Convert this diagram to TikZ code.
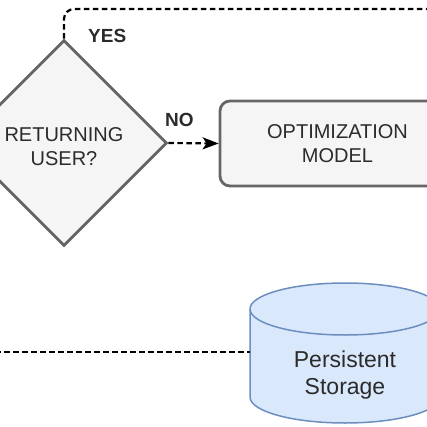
\documentclass[tikz,border=0pt]{standalone}
\usepackage{fontspec}
\setmainfont{Liberation Sans}
\usetikzlibrary{shapes.geometric,arrows.meta}
\definecolor{boxfill}{HTML}{F5F5F5}
\definecolor{boxline}{HTML}{666666}
\definecolor{storefill}{HTML}{DAE8FC}
\definecolor{storeline}{HTML}{6C8EBF}
\definecolor{txt}{HTML}{2B2B2B}
\tikzset{
  decision/.style={diamond, draw=boxline, fill=boxfill, line width=2.8pt,
    minimum width=206pt, minimum height=206pt, inner sep=0pt, aspect=1},
  process/.style={rectangle, rounded corners=10pt, draw=boxline, fill=boxfill,
    line width=2.8pt, minimum width=235pt, minimum height=85pt,
    align=center, text=txt, font=\fontsize{20}{24}\selectfont},
  caption/.style={align=center, text=txt, font=\fontsize{20}{24}\selectfont},
  flow/.style={line width=2.2pt, dash pattern=on 5.5pt off 3.5pt},
  answer/.style={text=txt, font=\bfseries\fontsize{19}{22}\selectfont, inner sep=0pt}
}
\begin{document}
\begin{tikzpicture}[x=1pt,y=-1pt]
      \useasboundingbox (0,0) rectangle (427,427);
      \clip (0,0) rectangle (427,427);
      \draw
        (64,143) node[decision] (ret){}
        (64,147) node[caption] (rettext){RETURNING\\USER?}
        (337.5,143.5) node[process] (opt){OPTIMIZATION\\MODEL}
        (88,43) node[answer, anchor=base west] (yes){YES}
        (165,127) node[answer, anchor=base west] (no){NO};
      % storage cylinder
      \draw[draw=storeline, fill=storefill, line width=1.5pt]
        (250,309) -- (250,397) arc[start angle=180, end angle=360, x radius=95pt, y radius=26pt]
        -- (440,309) arc[start angle=0, end angle=180, x radius=95pt, y radius=26pt] -- cycle;
      \draw[draw=storeline, line width=1.5pt]
        (250,309) arc[start angle=180, end angle=360, x radius=95pt, y radius=26pt];
      \node[text=txt, align=center, font=\fontsize{23}{27}\selectfont] (store) at (345,375) {Persistent\\Storage};
      \coordinate (storein) at (250,352);
      \coordinate (linkin) at (-5,352);
      \coordinate (yesout) at (440,9);
      \begin{scope}[flow]
        \draw[rounded corners=10pt] (ret.north) |- (yesout);
        \draw[-{Stealth[length=16pt,width=12pt,inset=4pt]}] (ret.east) -- (opt.west);
        \draw (linkin) -- (storein);
      \end{scope}
    \end{tikzpicture}
\end{document}
